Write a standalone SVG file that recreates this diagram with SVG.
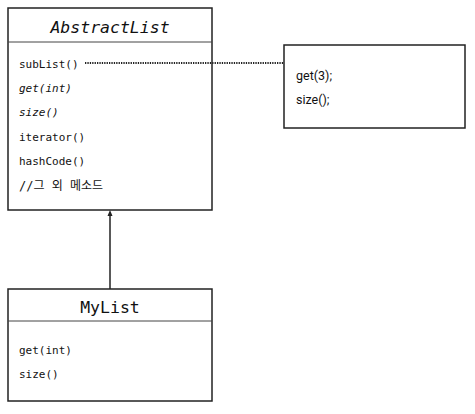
<svg xmlns="http://www.w3.org/2000/svg" width="475" height="414" viewBox="0 0 475 414">
<style>
.box{fill:#fff;stroke:#222;stroke-width:1.5}
.div{stroke:#444;stroke-width:1}
.m{font-family:"DejaVu Sans Mono","Noto Sans CJK KR",monospace;font-size:11px;fill:#111}
.t{font-family:"DejaVu Sans Mono","Noto Sans CJK KR",monospace;font-size:16.5px;fill:#111}
.n{font-family:"Roboto","Noto Sans",sans-serif;font-size:12.5px;fill:#111}
</style>
<defs>
<marker id="ah" markerWidth="6" markerHeight="6" refX="3" refY="3" orient="auto" markerUnits="userSpaceOnUse">
<path d="M0,0.5 L6,3 L0,5.5 z" fill="#222"/>
</marker>
</defs>
<rect width="475" height="414" fill="#fff"/>
<g id="AbstractList">
<rect class="box" x="8" y="8" width="204" height="202"/>
<line class="div" x1="8" y1="42" x2="212" y2="42"/>
<text class="t" x="110" y="33" text-anchor="middle" font-style="italic">AbstractList</text>
<text class="m" x="19" y="68">subList()</text>
<text class="m" x="19" y="92" font-style="italic">get(int)</text>
<text class="m" x="19" y="116" font-style="italic">size()</text>
<text class="m" x="19" y="141">iterator()</text>
<text class="m" x="19" y="165">hashCode()</text>
<text class="m" x="19" y="190" style="font-size:12px">//그 외 메소드</text>
</g>
<g id="note">
<rect class="box" x="284" y="45" width="181" height="83"/>
<text class="n" x="296" y="80">get(3);</text>
<text class="n" x="296" y="104">size();</text>
</g>
<g id="MyList">
<rect class="box" x="8" y="289" width="204" height="112"/>
<line class="div" x1="8" y1="321" x2="212" y2="321"/>
<text class="t" x="110" y="313" text-anchor="middle">MyList</text>
<text class="m" x="19" y="354">get(int)</text>
<text class="m" x="19" y="378">size()</text>
</g>
<g id="connectors">
<line x1="85" y1="63" x2="284" y2="63" stroke="#222" stroke-width="1.8" stroke-dasharray="1.3,1.1"/>
<line x1="110" y1="289" x2="110" y2="213" stroke="#222" stroke-width="1.5" marker-end="url(#ah)"/>
</g>
</svg>
